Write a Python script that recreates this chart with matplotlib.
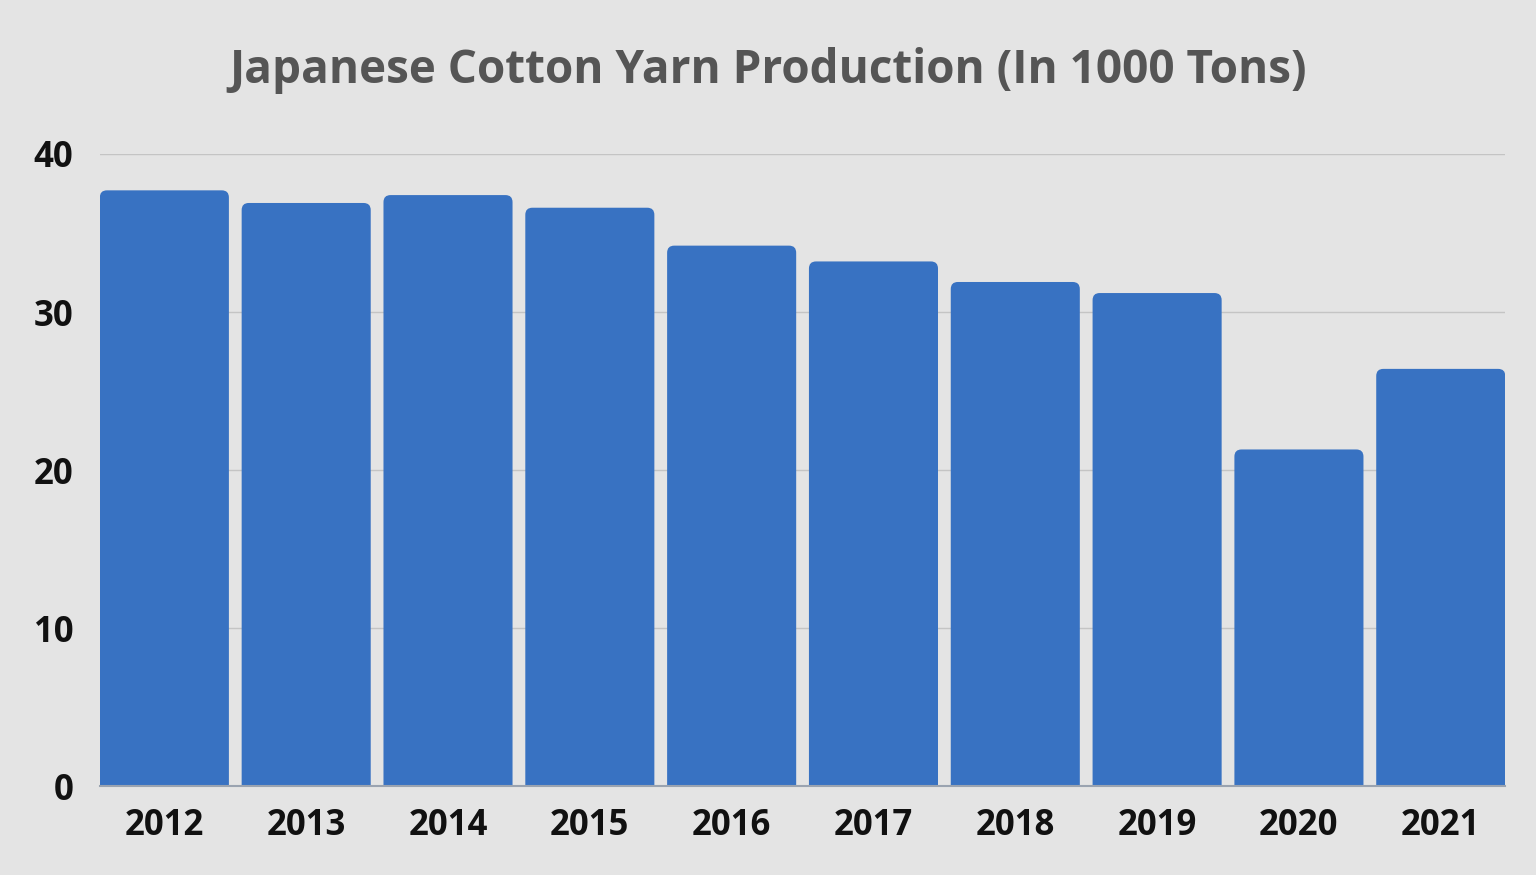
import matplotlib.pyplot as plt
from matplotlib.patches import FancyBboxPatch

years = ["2012", "2013", "2014", "2015", "2016", "2017", "2018", "2019", "2020", "2021"]
production = [37.7, 36.9, 37.4, 36.6, 34.2, 33.2, 31.9, 31.2, 21.3, 26.4]

BG = "#e4e4e4"
BAR = "#3872c2"

fig = plt.figure(figsize=(15.36, 8.75), dpi=100, facecolor=BG)
ax = fig.add_axes([0.065, 0.1017, 0.915, 0.7223], facecolor=BG)

bars = ax.bar(range(len(years)), production, width=0.91, color=BAR, zorder=3)

# swap plain bars for ones with slightly rounded corners
for b in bars:
    x, y = b.get_x(), b.get_y()
    w, h = b.get_width(), b.get_height()
    b.set_visible(False)
    # data units per pixel: x ~ 1/141.5, y ~ 40/632
    aspect = (40 / 632) / (1 / 141.5)
    r = 0.05
    patch = FancyBboxPatch((x + r, y), w - 2 * r, h - r * aspect,
                           boxstyle=f"round,pad={r}", mutation_aspect=aspect,
                           facecolor=BAR, edgecolor="none", zorder=3)
    ax.add_patch(patch)

ax.set_xlim(-0.455, len(years) - 1 + 0.455)
ax.set_ylim(0, 40)
ax.set_yticks([0, 10, 20, 30, 40])
ax.set_xticks(range(len(years)))
ax.set_xticklabels(years)
ax.yaxis.grid(True, color="#c4c4c4", linewidth=1, zorder=0)
ax.set_axisbelow(True)

for side in ["top", "right", "left"]:
    ax.spines[side].set_visible(False)
ax.spines["bottom"].set_color("#9aa3b0")
ax.spines["bottom"].set_linewidth(1.5)
ax.spines["bottom"].set_zorder(4)

ax.tick_params(axis="both", length=0, labelsize=25, labelcolor="#111111")
ax.tick_params(axis="x", pad=16)
ax.tick_params(axis="y", pad=19)
for lab in ax.get_xticklabels() + ax.get_yticklabels():
    lab.set_fontweight("bold")
    lab.set_fontfamily("Open Sans")

fig.text(0.5, 0.92, "Japanese Cotton Yarn Production (In 1000 Tons)",
         ha="center", va="center", fontsize=33, fontweight="bold",
         color="#555555", family="Open Sans")

fig.savefig("out.png", dpi=100, facecolor=BG)
